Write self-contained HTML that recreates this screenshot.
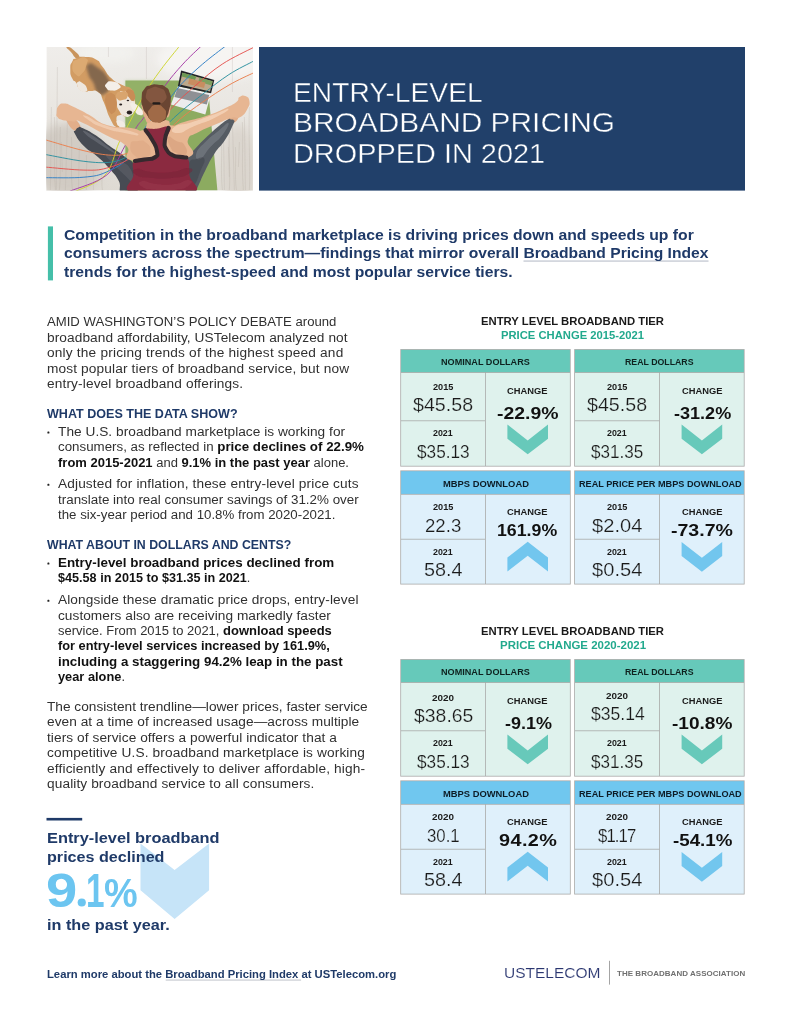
<!DOCTYPE html>
<html><head><meta charset="utf-8"><title>Entry-Level Broadband Pricing Dropped in 2021</title>
<style>
html,body{margin:0;padding:0;background:#fff;}
body{width:791px;height:1024px;position:relative;overflow:hidden;font-family:"Liberation Sans", sans-serif;}
.t{position:absolute;white-space:nowrap;line-height:1;transform-origin:0 0;font-family:"Liberation Sans", sans-serif;}
.t b{font-weight:700;color:#111;}
.a{position:absolute;}
</style></head><body>
<svg class="a" style="left:0;top:0" width="791" height="1024" viewBox="0 0 791 1024">
<svg x="46.4" y="47" width="206.5" height="143.6" viewBox="0 0 206.5 143.6" overflow="hidden">
<defs>
<filter id="b1" x="-10%" y="-10%" width="120%" height="120%"><feGaussianBlur stdDeviation="0.55"/></filter>
<filter id="b2" x="-10%" y="-10%" width="120%" height="120%"><feGaussianBlur stdDeviation="1.4"/></filter>
<filter id="b3" x="-30%" y="-30%" width="160%" height="160%"><feGaussianBlur stdDeviation="5"/></filter>
<linearGradient id="fl" x1="0" y1="0" x2="0" y2="1"><stop offset="0" stop-color="#efedea"/><stop offset="0.45" stop-color="#e9e6e1"/><stop offset="1" stop-color="#dedad3"/></linearGradient>
</defs>
<rect x="0" y="0" width="206.5" height="143.6" fill="url(#fl)"/>
<g filter="url(#b3)">
<ellipse cx="22" cy="112" rx="36" ry="36" fill="#cfc8c0" opacity="0.85"/>
<ellipse cx="192" cy="118" rx="16" ry="40" fill="#d9d3cb" opacity="0.85"/>
<ellipse cx="165" cy="12" rx="55" ry="22" fill="#f6f5f3" opacity="0.9"/>
<ellipse cx="60" cy="6" rx="30" ry="10" fill="#f3f2ef" opacity="0.8"/>
</g>
<g stroke="#b9b1a8" stroke-width="0.5" opacity="0.6" fill="none" filter="url(#b1)">
<path d="M11,20 L10,143"/>
<path d="M21,75 L19,143"/>
<path d="M33,100 L32,143"/>
<path d="M47,122 L47,143"/>
<path d="M177,85 L178,143"/>
<path d="M186,75 L188,143"/>
<path d="M198,70 L199,143"/>
<path d="M62,0 L62,10"/>
<path d="M100,0 L100,32"/>
<path d="M186,0 L186,45"/>
<path d="M5,60 L4,143"/>
<path d="M15,95 L16,125"/>
<path d="M182,100 L183,130"/>
<path d="M193,95 L192,120"/>
<path d="M8,70 C9,90 7,110 9,143" stroke="#aaa299" stroke-width="0.7" opacity="0.55"/>
<path d="M14,80 C13,100 15,120 13,143" stroke="#aaa299" stroke-width="0.7" opacity="0.55"/>
<path d="M25,90 C26,105 24,125 26,143" stroke="#aaa299" stroke-width="0.7" opacity="0.55"/>
<path d="M40,108 C41,120 39,132 40,143" stroke="#aaa299" stroke-width="0.7" opacity="0.55"/>
<path d="M55,125 C56,132 55,138 56,143" stroke="#aaa299" stroke-width="0.7" opacity="0.55"/>
<path d="M175,90 C176,105 174,125 176,143" stroke="#aaa299" stroke-width="0.7" opacity="0.55"/>
<path d="M183,85 C182,100 184,125 183,143" stroke="#aaa299" stroke-width="0.7" opacity="0.55"/>
<path d="M196,75 C197,95 195,120 197,143" stroke="#aaa299" stroke-width="0.7" opacity="0.55"/>
<path d="M203,60 C202,90 204,120 203,143" stroke="#aaa299" stroke-width="0.7" opacity="0.55"/>
<path d="M189,100 C190,110 188,130 190,143" stroke="#aaa299" stroke-width="0.7" opacity="0.55"/>
</g>
<polygon points="79.0,33.6 161.0,33.6 171.0,143.6 79.0,143.6" fill="#8cab60" filter="url(#b1)"/>
<polygon points="79.0,33.6 108.0,33.6 100.0,143.6 79.0,143.6" fill="#9bb972" opacity="0.45" filter="url(#b2)"/>
<g filter="url(#b1)">
<path d="M20.0,0.3 C20.7,2.0 21.2,1.4 24.5,5.0 C27.8,8.6 27.0,9.7 29.8,11.2 C32.6,12.7 33.9,12.2 33.0,9.5 C32.1,6.8 30.5,6.2 27.0,3.0 C23.5,-0.2 24.8,0.9 22.5,0.0 C20.2,-0.9 19.3,-1.4 20.0,0.3Z" fill="#c9945b" />
<path d="M29.8,11.2 C34.2,9.7 32.4,9.5 39.0,9.9 C45.6,10.3 43.9,9.2 49.6,12.5 C55.3,15.8 50.9,13.3 56.1,19.7 C61.3,26.1 58.7,25.5 65.3,31.6 C71.9,37.7 69.3,34.6 75.9,38.1 C82.5,41.6 81.1,38.1 85.1,42.1 C89.1,46.1 86.9,44.0 88.0,50.0 C89.1,56.0 89.2,54.7 88.5,60.0 C87.8,65.3 88.8,62.8 86.0,66.0 C83.2,69.2 84.0,68.8 80.0,69.5 C76.0,70.2 77.3,67.2 74.0,68.0 C70.7,68.8 70.3,68.7 70.0,72.0 C69.7,75.3 73.0,75.3 73.0,78.0 C73.0,80.7 73.0,82.0 70.0,80.0 C67.0,78.0 68.2,80.3 64.0,72.0 C59.8,63.7 61.3,64.0 57.4,55.2 C53.5,46.4 56.7,49.2 52.2,45.5 C47.7,41.8 48.4,44.3 44.0,44.0 C39.6,43.7 42.7,45.2 39.0,44.5 C35.3,43.8 36.0,44.8 33.0,42.0 C30.0,39.2 32.4,39.5 30.0,36.0 C27.6,32.5 27.9,36.1 25.9,31.6 C23.9,27.1 23.9,28.1 23.9,22.4 C23.9,16.7 23.9,18.2 25.9,14.5 C27.9,10.8 25.4,12.7 29.8,11.2Z" fill="#d29c63" />
<clipPath id="dogc"><path d="M29.8,11.2 C34.2,9.7 32.4,9.5 39.0,9.9 C45.6,10.3 43.9,9.2 49.6,12.5 C55.3,15.8 50.9,13.3 56.1,19.7 C61.3,26.1 58.7,25.5 65.3,31.6 C71.9,37.7 69.3,34.6 75.9,38.1 C82.5,41.6 81.1,38.1 85.1,42.1 C89.1,46.1 86.9,44.0 88.0,50.0 C89.1,56.0 89.2,54.7 88.5,60.0 C87.8,65.3 88.8,62.8 86.0,66.0 C83.2,69.2 84.0,68.8 80.0,69.5 C76.0,70.2 77.3,67.2 74.0,68.0 C70.7,68.8 70.3,68.7 70.0,72.0 C69.7,75.3 73.0,75.3 73.0,78.0 C73.0,80.7 73.0,82.0 70.0,80.0 C67.0,78.0 68.2,80.3 64.0,72.0 C59.8,63.7 61.3,64.0 57.4,55.2 C53.5,46.4 56.7,49.2 52.2,45.5 C47.7,41.8 48.4,44.3 44.0,44.0 C39.6,43.7 42.7,45.2 39.0,44.5 C35.3,43.8 36.0,44.8 33.0,42.0 C30.0,39.2 32.4,39.5 30.0,36.0 C27.6,32.5 27.9,36.1 25.9,31.6 C23.9,27.1 23.9,28.1 23.9,22.4 C23.9,16.7 23.9,18.2 25.9,14.5 C27.9,10.8 25.4,12.7 29.8,11.2Z"/></clipPath>
<g clip-path="url(#dogc)"><path d="M42.0,17.0 C45.3,15.0 45.7,16.7 52.0,21.0 C58.3,25.3 57.3,24.0 61.0,30.0 C64.7,36.0 64.0,33.3 63.0,39.0 C62.0,44.7 62.0,45.0 58.0,47.0 C54.0,49.0 54.7,48.7 51.0,45.0 C47.3,41.3 50.0,42.0 47.0,36.0 C44.0,30.0 43.7,33.3 42.0,27.0 C40.3,20.7 38.7,19.0 42.0,17.0Z" fill="#6a5646" opacity="0.75" filter="url(#b2)"/></g>
<path d="M26.0,18.0 C26.7,12.7 27.3,14.2 32.0,12.0 C36.7,9.8 37.3,9.5 40.0,11.5 C42.7,13.5 41.3,13.2 40.0,18.0 C38.7,22.8 39.3,22.7 36.0,26.0 C32.7,29.3 33.3,30.7 30.0,28.0 C26.7,25.3 25.3,23.3 26.0,18.0Z" fill="#dfae76" opacity="0.8"/>
<path d="M60.0,36.5 C62.0,34.3 61.6,34.0 66.0,34.5 C70.4,35.0 71.2,35.5 73.2,38.0 C75.2,40.5 74.7,40.2 72.0,42.0 C69.3,43.8 69.0,43.8 65.0,43.5 C61.0,43.2 61.7,43.3 60.0,41.0 C58.3,38.7 58.0,38.7 60.0,36.5Z" fill="#f4efe9" />
<path d="M31.5,35.0 C33.1,34.0 33.0,34.0 36.0,36.0 C39.0,38.0 39.4,38.1 40.4,41.0 C41.4,43.9 41.1,43.9 39.0,44.7 C36.9,45.5 36.6,45.4 34.0,43.5 C31.4,41.6 32.0,41.8 31.2,39.0 C30.4,36.2 29.9,36.0 31.5,35.0Z" fill="#eee7de" />
<path d="M72.0,47.0 C74.5,43.0 73.5,44.0 78.0,44.0 C82.5,44.0 82.0,43.3 85.5,47.0 C89.0,50.7 87.7,49.7 88.5,55.0 C89.3,60.3 89.5,58.5 88.0,63.0 C86.5,67.5 87.3,66.5 84.0,68.5 C80.7,70.5 81.7,70.5 78.0,69.0 C74.3,67.5 75.5,68.3 73.0,64.0 C70.5,59.7 70.8,61.7 70.5,56.0 C70.2,50.3 69.5,51.0 72.0,47.0Z" fill="#efe7de" />
<path d="M59.0,50.0 C59.8,46.2 59.3,47.5 62.0,46.5 C64.7,45.5 64.5,45.2 67.0,47.0 C69.5,48.8 68.5,47.7 69.5,52.0 C70.5,56.3 70.8,55.3 70.0,60.0 C69.2,64.7 69.3,64.3 67.0,66.0 C64.7,67.7 65.5,67.7 63.0,65.0 C60.5,62.3 60.8,63.0 59.5,58.0 C58.2,53.0 58.2,53.8 59.0,50.0Z" fill="#c98e58" />
<path d="M80.0,43.5 C81.5,42.2 82.3,42.0 85.0,43.0 C87.7,44.0 86.8,43.5 88.0,46.5 C89.2,49.5 89.2,49.5 88.5,52.0 C87.8,54.5 87.8,54.3 86.0,54.0 C84.2,53.7 84.8,53.3 83.0,51.0 C81.2,48.7 81.5,49.5 80.5,47.0 C79.5,44.5 78.5,44.8 80.0,43.5Z" fill="#c88d57" />
<path d="M70.0,47.0 C71.3,44.5 71.7,45.2 75.0,44.5 C78.3,43.8 78.0,43.2 80.0,45.0 C82.0,46.8 82.3,47.3 81.0,50.0 C79.7,52.7 79.3,52.3 76.0,53.0 C72.7,53.7 73.0,54.0 71.0,52.0 C69.0,50.0 68.7,49.5 70.0,47.0Z" fill="#d9a56e" />
<ellipse cx="83" cy="65.6" rx="2.7" ry="2.0" fill="#2b2321"/>
<ellipse cx="74.3" cy="57.5" rx="1.5" ry="0.9" fill="#2b2321"/>
<ellipse cx="81.5" cy="53.5" rx="1.3" ry="0.8" fill="#2b2321"/>
<path d="M84.6,56.0 C85.9,55.0 85.9,55.3 89.0,57.0 C92.1,58.7 91.4,58.0 94.0,61.0 C96.6,64.0 97.0,63.7 96.7,66.0 C96.4,68.3 95.9,68.7 93.0,68.0 C90.1,67.3 90.7,66.7 88.0,64.0 C85.3,61.3 86.1,62.7 85.0,60.0 C83.9,57.3 83.3,57.0 84.6,56.0Z" fill="#f4eee6" />
<path d="M70.9,73.5 C72.4,72.7 72.5,72.7 75.0,74.0 C77.5,75.3 77.8,75.5 78.5,77.5 C79.2,79.5 78.8,79.3 77.0,80.0 C75.2,80.7 75.2,80.7 73.0,79.5 C70.8,78.3 71.2,78.5 70.5,76.5 C69.8,74.5 69.4,74.3 70.9,73.5Z" fill="#f2ece4" />
</g>
<g filter="url(#b1)">
<polygon points="131.5,39.3 164.7,46.2 158.9,67.5 124.5,57.6" fill="#ececed" />
<polygon points="131.0,41.0 162.8,48.0 160.4,57.5 128.0,50.0" fill="#77797d" opacity="0.8"/>
<polygon points="134.7,23.5 167.9,32.9 164.7,46.2 131.5,39.3" fill="#222427" />
<polygon points="136.0,25.8 166.2,34.3 163.6,44.4 133.4,37.6" fill="#bca98c" />
<polygon points="136.0,25.8 150.0,29.6 148.6,33.0 135.3,29.4" fill="#6c9852" />
<polygon points="153.0,30.5 166.2,34.3 165.2,38.4 152.0,34.6" fill="#7da05e" />
<polygon points="143.0,31.5 159.0,35.6 157.6,41.0 141.6,37.0" fill="#c88d60" />
</g>
<g filter="url(#b1)">
<path d="M19.3,68.8 C20.5,67.6 25.4,69.4 28.4,71.8 C31.4,74.2 34.3,78.5 34.5,80.9 C34.7,83.3 31.6,84.6 29.2,84.0 C26.8,83.4 24.4,80.9 22.4,77.9 C20.4,74.9 18.1,70.0 19.3,68.8Z" fill="#e2ae8a" />
<path d="M186.0,64.0 C188.4,62.8 192.2,64.0 193.0,66.0 C193.8,68.0 191.8,72.0 190.0,74.0 C188.2,76.0 185.8,76.4 184.0,76.0 C182.2,75.6 180.6,74.4 181.0,72.0 C181.4,69.6 183.6,65.2 186.0,64.0Z" fill="#e2ae8a" />
<path d="M29.2,83.2 C30.2,81.6 30.2,81.1 32.0,80.5 C33.8,79.9 31.3,78.8 36.0,80.9 C40.7,83.0 42.4,83.6 49.7,88.5 C57.0,93.4 55.6,93.4 63.3,99.1 C71.0,104.8 72.0,104.8 78.5,109.7 C85.0,114.6 84.5,112.4 87.6,117.3 C90.7,122.2 89.4,120.3 90.0,128.0 C90.6,135.7 93.9,141.2 90.0,146.0 C86.1,150.8 80.1,149.2 75.4,146.0 C70.7,142.8 75.6,140.4 72.4,134.0 C69.2,127.6 69.0,128.4 63.3,121.9 C57.6,115.4 58.1,115.8 51.2,109.7 C44.3,103.6 43.6,105.3 37.5,99.1 C31.4,92.9 30.6,90.7 28.4,86.5 C26.2,82.3 28.2,84.8 29.2,83.2Z" fill="#464b53" />
<path d="M38.0,84.0 C40.7,84.8 43.6,86.7 50.0,91.0 C56.4,95.3 56.1,95.5 62.0,100.0 C67.9,104.5 71.5,106.9 72.0,108.0 C72.5,109.1 69.9,107.5 64.0,104.0 C58.1,100.5 56.4,99.3 50.0,95.0 C43.6,90.7 43.2,90.9 40.0,88.0 C36.8,85.1 35.3,83.2 38.0,84.0Z" fill="#747981" opacity="0.55"/>
<path d="M60.0,108.0 C61.6,106.9 67.6,110.3 74.0,114.0 C80.4,117.7 80.8,116.7 84.0,122.0 C87.2,127.3 87.6,132.4 86.0,134.0 C84.4,135.6 82.8,132.3 78.0,128.0 C73.2,123.7 72.8,123.3 68.0,118.0 C63.2,112.7 58.4,109.1 60.0,108.0Z" fill="#5d626a" opacity="0.6"/>
<path d="M184.7,72.6 C186.7,72.7 186.9,72.3 187.5,73.5 C188.1,74.7 189.4,71.8 187.0,77.0 C184.6,82.2 183.7,85.2 178.6,93.1 C173.5,101.0 173.3,98.6 168.0,106.7 C162.7,114.8 163.4,114.5 158.9,123.4 C154.4,132.3 154.1,134.1 151.3,140.1 C148.5,146.1 151.3,144.4 148.3,146.0 C145.3,147.6 142.1,150.8 139.9,146.0 C137.7,141.2 139.7,137.3 139.9,128.0 C140.1,118.7 138.5,118.2 140.7,111.3 C142.9,104.4 142.2,108.7 148.3,102.2 C154.4,95.7 155.0,94.7 163.5,87.0 C172.0,79.3 174.4,77.1 180.1,73.3 C185.8,69.5 182.7,72.5 184.7,72.6Z" fill="#565b63" />
<path d="M150.0,106.0 C151.6,101.2 154.1,99.9 160.0,94.0 C165.9,88.1 166.1,88.8 172.0,84.0 C177.9,79.2 180.9,74.9 182.0,76.0 C183.1,77.1 180.8,81.6 176.0,88.0 C171.2,94.4 169.9,93.6 164.0,100.0 C158.1,106.4 157.7,110.4 154.0,112.0 C150.3,113.6 148.4,110.8 150.0,106.0Z" fill="#80858c" opacity="0.55"/>
<path d="M142.0,118.0 C144.1,110.5 145.7,113.6 150.0,112.0 C154.3,110.4 156.9,108.8 158.0,112.0 C159.1,115.2 156.7,117.1 154.0,124.0 C151.3,130.9 151.2,133.7 148.0,138.0 C144.8,142.3 143.6,145.3 142.0,140.0 C140.4,134.7 139.9,125.5 142.0,118.0Z" fill="#41464d" opacity="0.55"/>
</g>
<g>
<path d="M133.2,-1.0 C130.2,2.8 122.1,12.5 116.7,19.7 C111.3,26.9 107.5,32.2 103.6,38.1 C99.7,44.0 99.3,44.7 95.2,52.1 C91.1,59.5 85.7,70.5 81.5,78.6 C77.3,86.7 76.6,87.0 72.4,96.1 C68.2,105.2 66.6,119.2 58.8,128.0 C51.0,136.8 35.2,141.1 29.9,144.0" fill="none" stroke="#cdd52e" stroke-width="0.95" stroke-linecap="round"/>
<path d="M154.9,-1.0 C151.5,2.3 143.2,9.7 136.5,17.1 C129.8,24.5 125.1,29.8 118.1,39.4 C111.1,49.0 103.2,62.2 98.2,69.5 C93.2,76.8 94.2,74.0 90.6,79.4 C87.0,84.8 84.1,90.2 78.5,99.1 C72.9,108.0 70.3,119.8 60.3,128.0 C50.3,136.2 30.6,141.1 23.9,144.0" fill="none" stroke="#a43aa6" stroke-width="0.95" stroke-linecap="round"/>
<path d="M179.2,-1.0 C175.0,2.3 164.0,10.4 156.2,17.1 C148.4,23.8 142.5,29.2 136.5,35.5 C130.5,41.8 130.0,43.3 123.3,51.3 C116.6,59.3 107.1,68.7 99.7,79.4 C92.3,90.1 90.2,101.4 83.0,109.7 C75.8,118.0 68.6,121.1 60.3,124.9 C52.0,128.7 48.7,129.1 37.5,130.2 C26.3,131.3 6.1,130.6 -1.0,130.7" fill="none" stroke="#2f7fc6" stroke-width="0.95" stroke-linecap="round"/>
<path d="M207.0,0.5 C201.3,3.5 186.4,10.2 175.9,17.1 C165.4,24.0 159.0,29.9 149.6,38.1 C140.2,46.3 133.0,52.3 124.6,61.8 C116.2,71.3 111.3,81.1 104.0,90.0 C96.7,98.9 92.6,104.8 84.6,110.5 C76.6,116.2 68.9,118.8 60.3,121.1 C51.7,123.4 48.7,123.3 37.5,123.1 C26.3,122.9 6.1,120.6 -1.0,120.1" fill="none" stroke="#e5534f" stroke-width="0.95" stroke-linecap="round"/>
<path d="M207.0,14.2 C202.5,16.7 191.8,21.5 182.5,27.6 C173.2,33.7 166.3,39.3 156.2,47.3 C146.1,55.3 136.5,62.3 127.3,71.0 C118.1,79.7 114.0,88.2 106.0,95.0 C98.0,101.8 91.4,104.5 83.8,108.2 C76.2,111.9 73.3,114.0 64.8,115.1 C56.3,116.2 49.6,115.7 37.5,114.3 C25.4,112.9 6.1,108.7 -1.0,107.5" fill="none" stroke="#2c909f" stroke-width="0.95" stroke-linecap="round"/>
<path d="M207.0,25.9 C202.5,28.1 191.8,32.7 182.5,38.1 C173.2,43.5 165.1,49.0 156.2,55.2 C147.3,61.4 142.6,64.5 133.8,72.0 C125.0,79.5 117.4,89.8 108.0,96.0 C98.6,102.2 90.2,103.8 82.3,106.0 C74.4,108.2 73.0,108.6 64.8,108.2 C56.6,107.8 49.6,106.5 37.5,103.7 C25.4,100.9 6.1,94.8 -1.0,92.8" fill="none" stroke="#ea7f4e" stroke-width="0.95" stroke-linecap="round"/>
</g>
<g filter="url(#b1)">
<path d="M10.2,66.0 C10.5,63.1 9.9,61.5 12.0,59.0 C14.1,56.5 14.0,56.3 18.0,56.5 C22.0,56.7 20.2,56.6 26.9,59.7 C33.6,62.8 34.1,63.1 43.0,68.0 C51.9,72.9 49.2,74.5 60.3,77.9 C71.4,81.3 74.8,79.5 84.6,80.9 C94.4,82.3 91.9,84.8 97.0,83.0 C102.1,81.2 97.5,76.7 103.7,74.1 C109.9,71.5 114.5,72.1 120.3,73.3 C126.1,74.5 120.9,78.2 125.5,78.6 C130.1,79.0 128.4,77.5 137.7,74.9 C147.0,72.3 149.5,72.5 160.4,68.8 C171.3,65.1 170.7,64.9 178.6,61.2 C186.5,57.5 186.2,58.0 190.0,55.0 C193.8,52.0 190.6,51.6 193.0,50.0 C195.4,48.4 196.3,47.9 199.0,49.0 C201.7,50.1 202.5,50.5 203.0,54.0 C203.5,57.5 203.4,57.7 201.0,62.0 C198.6,66.3 198.3,67.6 194.0,70.0 C189.7,72.4 190.4,69.4 184.7,71.0 C179.0,72.6 181.5,72.1 172.6,76.0 C163.7,79.9 159.6,80.9 151.3,85.5 C143.0,90.1 144.2,86.3 141.5,93.1 C138.8,99.9 155.4,105.4 141.0,111.0 C126.6,116.6 103.9,117.2 87.6,114.0 C71.3,110.8 87.3,105.9 80.0,99.1 C72.7,92.3 72.4,94.9 60.3,88.5 C48.2,82.1 43.4,78.7 34.5,75.0 C25.6,71.3 31.9,75.0 27.0,74.5 C22.1,74.0 20.3,74.2 16.0,73.0 C11.7,71.8 12.5,71.9 11.0,70.0 C9.5,68.1 9.9,68.9 10.2,66.0Z" fill="#e7b692" />
<path d="M40.0,69.0 C45.3,70.7 44.7,73.3 58.0,78.0 C71.3,82.7 68.7,79.7 80.0,83.0 C91.3,86.3 92.7,87.0 92.0,88.0 C91.3,89.0 89.3,88.3 78.0,86.0 C66.7,83.7 70.0,85.3 58.0,81.0 C46.0,76.7 48.0,77.0 42.0,73.0 C36.0,69.0 34.7,67.3 40.0,69.0Z" fill="#f3d0b4" opacity="0.8"/>
<path d="M128.0,80.0 C132.7,76.3 133.3,79.0 146.0,75.0 C158.7,71.0 154.0,72.3 166.0,68.0 C178.0,63.7 181.3,61.0 182.0,62.0 C182.7,63.0 179.3,65.3 168.0,71.0 C156.7,76.7 160.0,74.0 148.0,79.0 C136.0,84.0 138.7,85.7 132.0,86.0 C125.3,86.3 123.3,83.7 128.0,80.0Z" fill="#f5d5ba" opacity="0.8"/>
<path d="M122.0,90.0 C124.0,88.0 124.7,91.3 130.0,94.0 C135.3,96.7 135.0,93.3 138.0,98.0 C141.0,102.7 141.7,105.3 139.0,108.0 C136.3,110.7 135.0,108.7 130.0,106.0 C125.0,103.3 126.7,105.3 124.0,100.0 C121.3,94.7 120.0,92.0 122.0,90.0Z" fill="#d39b78" opacity="0.55"/>
<path d="M84.0,98.0 C84.7,92.7 86.7,94.7 92.0,94.0 C97.3,93.3 96.0,92.7 100.0,96.0 C104.0,99.3 104.0,99.3 104.0,104.0 C104.0,108.7 104.7,108.0 100.0,110.0 C95.3,112.0 95.3,114.0 90.0,110.0 C84.7,106.0 83.3,103.3 84.0,98.0Z" fill="#d9a27f" opacity="0.45"/>
</g>
<g filter="url(#b1)">
<path d="M97.9,82.7 C98.9,80.4 104.0,82.4 110.0,81.8 C116.0,81.2 121.5,77.7 123.7,80.3 C125.9,82.9 120.3,87.6 119.5,93.1 C118.7,98.6 118.3,100.1 120.3,103.7 C122.3,107.3 123.2,106.8 128.0,108.5 C132.8,110.2 137.3,106.2 140.8,110.8 C144.3,115.3 142.0,119.8 143.0,128.0 C144.0,136.2 158.5,141.8 145.2,146.0 C131.9,150.2 99.8,150.2 86.2,146.0 C72.6,141.8 86.7,135.4 87.0,128.0 C87.3,120.6 84.7,118.1 87.7,114.3 C90.7,110.5 95.0,112.6 100.0,111.5 C105.0,110.4 106.7,112.2 109.0,109.7 C111.3,107.2 110.7,104.8 110.0,100.6 C109.3,96.4 108.7,95.7 105.9,91.5 C103.1,87.3 96.9,85.0 97.9,82.7Z" fill="#8b2a40" />
<path d="M99.1,83.2 C101.1,86.2 102.5,86.9 105.9,93.1 C109.3,99.2 109.8,98.5 110.5,103.7 C111.2,108.9 112.0,107.9 108.2,110.5 C104.5,113.1 103.9,111.5 98.0,112.5 C92.1,113.5 91.3,113.5 88.5,114.0" fill="none" stroke="#35292f" stroke-width="4.0" stroke-linecap="round"/>
<path d="M122.2,80.9 C121.1,84.6 119.1,86.5 118.5,93.1 C117.9,99.7 117.9,98.4 120.3,102.9 C122.7,107.4 122.6,106.1 126.4,108.2 C130.2,110.3 128.9,109.1 133.0,109.8 C137.1,110.5 138.0,110.3 140.1,110.5" fill="none" stroke="#35292f" stroke-width="4.0" stroke-linecap="round"/>
<path d="M90.0,122.0 C95.0,121.0 93.3,124.0 105.0,125.0 C116.7,126.0 112.7,126.3 125.0,125.0 C137.3,123.7 136.3,120.3 142.0,121.0 C147.7,121.7 147.7,123.7 142.0,127.0 C136.3,130.3 137.3,129.7 125.0,131.0 C112.7,132.3 116.7,132.0 105.0,131.0 C93.3,130.0 95.0,131.0 90.0,128.0 C85.0,125.0 85.0,123.0 90.0,122.0Z" fill="#772035" opacity="0.5"/>
<path d="M96.0,134.0 C100.7,133.0 99.3,136.0 110.0,137.0 C120.7,138.0 117.3,138.3 128.0,137.0 C138.7,135.7 137.3,132.3 142.0,133.0 C146.7,133.7 146.7,135.7 142.0,139.0 C137.3,142.3 138.7,141.7 128.0,143.0 C117.3,144.3 120.7,144.0 110.0,143.0 C99.3,142.0 100.7,143.0 96.0,140.0 C91.3,137.0 91.3,135.0 96.0,134.0Z" fill="#a13a50" opacity="0.4"/>
</g>
<g filter="url(#b1)">
<path d="M95.5,58.0 C94.2,58.2 95.3,58.7 96.1,62.7 C96.9,66.7 96.0,65.6 98.0,70.0 C100.0,74.4 100.0,76.0 102.0,76.0 C104.0,76.0 104.7,74.7 104.0,70.0 C103.3,65.3 102.8,66.0 100.0,62.0 C97.2,58.0 96.8,57.8 95.5,58.0Z" fill="#e3ad89" />
<path d="M122.0,70.0 C123.4,68.4 123.3,65.9 124.1,61.2 C124.9,56.5 125.5,57.1 124.5,56.0 C123.5,54.9 122.5,54.7 121.0,58.0 C119.5,61.3 119.7,62.0 120.0,66.0 C120.3,70.0 120.6,71.6 122.0,70.0Z" fill="#e3ad89" />
<path d="M95.3,50.0 C95.9,44.0 95.1,45.9 98.0,42.0 C100.9,38.1 99.3,39.7 104.0,38.3 C108.7,36.9 107.0,37.2 112.0,37.8 C117.0,38.4 115.2,37.3 119.0,40.0 C122.8,42.7 121.6,41.0 123.4,46.0 C125.2,51.0 124.4,49.7 124.3,55.0 C124.2,60.3 124.3,57.0 123.0,62.0 C121.7,67.0 122.3,66.0 120.3,70.0 C118.3,74.0 120.4,72.3 117.0,74.0 C113.6,75.7 114.2,75.3 110.0,75.0 C105.8,74.7 107.8,75.7 104.5,73.0 C101.2,70.3 102.7,71.3 100.0,67.0 C97.3,62.7 97.9,65.7 96.3,60.0 C94.7,54.3 94.7,56.0 95.3,50.0Z" fill="#6b4532" />
<path d="M100.0,46.0 C101.0,41.7 100.7,42.7 105.0,41.0 C109.3,39.3 108.3,39.3 113.0,41.0 C117.7,42.7 117.3,41.7 119.0,46.0 C120.7,50.3 121.0,50.7 118.0,54.0 C115.0,57.3 115.3,56.0 110.0,56.0 C104.7,56.0 105.3,57.3 102.0,54.0 C98.7,50.7 99.0,50.3 100.0,46.0Z" fill="#8d6045" opacity="0.7"/>
<path d="M103.5,62.0 C106.2,58.7 105.5,58.3 110.0,58.0 C114.5,57.7 113.8,57.7 117.0,61.0 C120.2,64.3 119.8,63.7 119.5,68.0 C119.2,72.3 119.2,71.5 116.0,74.0 C112.8,76.5 113.8,75.8 110.0,75.5 C106.2,75.2 107.2,75.5 104.5,73.0 C101.8,70.5 102.3,71.7 102.0,68.0 C101.7,64.3 100.8,65.3 103.5,62.0Z" fill="#a06b47" />
<rect x="106" y="55.2" width="8" height="2.2" rx="1" fill="#221d1c"/>
</g>
</svg>
<rect x="259" y="47" width="486" height="143.6" fill="#21406a"/>
<rect x="47.9" y="226.4" width="5.1" height="54" fill="#45bfa9"/>
<rect x="523.5" y="260.6" width="185" height="0.9" fill="#a9b0bd"/>
<rect x="400.30" y="349.10" width="170.40" height="117.50" fill="#a9aaa9"/>
<rect x="401.10" y="349.90" width="168.80" height="22.20" fill="#66c9ba"/>
<rect x="401.10" y="372.90" width="83.90" height="47.50" fill="#dff2ed"/>
<rect x="401.10" y="421.20" width="83.90" height="44.60" fill="#dff2ed"/>
<rect x="485.80" y="372.90" width="84.10" height="92.90" fill="#dff2ed"/>
<rect x="400.30" y="470.40" width="170.40" height="114.10" fill="#a9aaa9"/>
<rect x="401.10" y="471.20" width="168.80" height="22.70" fill="#70c7ef"/>
<rect x="401.10" y="494.70" width="83.90" height="44.10" fill="#dff0fb"/>
<rect x="401.10" y="539.60" width="83.90" height="44.10" fill="#dff0fb"/>
<rect x="485.80" y="494.70" width="84.10" height="89.00" fill="#dff0fb"/>
<rect x="574.20" y="349.10" width="170.40" height="117.50" fill="#a9aaa9"/>
<rect x="575.00" y="349.90" width="168.80" height="22.20" fill="#66c9ba"/>
<rect x="575.00" y="372.90" width="84.10" height="47.50" fill="#dff2ed"/>
<rect x="575.00" y="421.20" width="84.10" height="44.60" fill="#dff2ed"/>
<rect x="659.90" y="372.90" width="83.90" height="92.90" fill="#dff2ed"/>
<rect x="574.20" y="470.40" width="170.40" height="114.10" fill="#a9aaa9"/>
<rect x="575.00" y="471.20" width="168.80" height="22.70" fill="#70c7ef"/>
<rect x="575.00" y="494.70" width="84.10" height="44.10" fill="#dff0fb"/>
<rect x="575.00" y="539.60" width="84.10" height="44.10" fill="#dff0fb"/>
<rect x="659.90" y="494.70" width="83.90" height="89.00" fill="#dff0fb"/>
<polygon points="507.40000000000003,424.5 527.7,440.4 548.0,424.5 548.0,438.7 527.7,454.3 507.40000000000003,438.7" fill="#67c9ba"/>
<polygon points="681.6000000000001,424.5 701.9000000000001,440.4 722.2,424.5 722.2,438.7 701.9000000000001,454.3 681.6000000000001,438.7" fill="#67c9ba"/>
<polygon points="527.7,541.7 548.0,557.6 548.0,571.6 527.7,555.8000000000001 507.40000000000003,571.6 507.40000000000003,557.6" fill="#72c6ee"/>
<polygon points="681.6000000000001,541.9 701.9000000000001,557.8 722.2,541.9 722.2,556.1 701.9000000000001,571.6999999999999 681.6000000000001,556.1" fill="#72c6ee"/>
<rect x="400.30" y="659.10" width="170.40" height="117.50" fill="#a9aaa9"/>
<rect x="401.10" y="659.90" width="168.80" height="22.20" fill="#66c9ba"/>
<rect x="401.10" y="682.90" width="83.90" height="47.50" fill="#dff2ed"/>
<rect x="401.10" y="731.20" width="83.90" height="44.60" fill="#dff2ed"/>
<rect x="485.80" y="682.90" width="84.10" height="92.90" fill="#dff2ed"/>
<rect x="400.30" y="780.40" width="170.40" height="114.10" fill="#a9aaa9"/>
<rect x="401.10" y="781.20" width="168.80" height="22.70" fill="#70c7ef"/>
<rect x="401.10" y="804.70" width="83.90" height="44.10" fill="#dff0fb"/>
<rect x="401.10" y="849.60" width="83.90" height="44.10" fill="#dff0fb"/>
<rect x="485.80" y="804.70" width="84.10" height="89.00" fill="#dff0fb"/>
<rect x="574.20" y="659.10" width="170.40" height="117.50" fill="#a9aaa9"/>
<rect x="575.00" y="659.90" width="168.80" height="22.20" fill="#66c9ba"/>
<rect x="575.00" y="682.90" width="84.10" height="47.50" fill="#dff2ed"/>
<rect x="575.00" y="731.20" width="84.10" height="44.60" fill="#dff2ed"/>
<rect x="659.90" y="682.90" width="83.90" height="92.90" fill="#dff2ed"/>
<rect x="574.20" y="780.40" width="170.40" height="114.10" fill="#a9aaa9"/>
<rect x="575.00" y="781.20" width="168.80" height="22.70" fill="#70c7ef"/>
<rect x="575.00" y="804.70" width="84.10" height="44.10" fill="#dff0fb"/>
<rect x="575.00" y="849.60" width="84.10" height="44.10" fill="#dff0fb"/>
<rect x="659.90" y="804.70" width="83.90" height="89.00" fill="#dff0fb"/>
<polygon points="507.40000000000003,734.5 527.7,750.4 548.0,734.5 548.0,748.7 527.7,764.3 507.40000000000003,748.7" fill="#67c9ba"/>
<polygon points="681.6000000000001,734.5 701.9000000000001,750.4 722.2,734.5 722.2,748.7 701.9000000000001,764.3 681.6000000000001,748.7" fill="#67c9ba"/>
<polygon points="527.7,851.7 548.0,867.6 548.0,881.6 527.7,865.8000000000001 507.40000000000003,881.6 507.40000000000003,867.6" fill="#72c6ee"/>
<polygon points="681.6000000000001,851.9 701.9000000000001,867.8 722.2,851.9 722.2,866.1 701.9000000000001,881.6999999999999 681.6000000000001,866.1" fill="#72c6ee"/>
<rect x="47.4" y="431.5" width="2.0" height="2.0" rx="0.6" fill="#222"/>
<rect x="47.4" y="483.8" width="2.0" height="2.0" rx="0.6" fill="#222"/>
<rect x="47.4" y="562.6" width="2.0" height="2.0" rx="0.6" fill="#222"/>
<rect x="47.4" y="599.8" width="2.0" height="2.0" rx="0.6" fill="#222"/>
<polygon points="140.5,843.4 174.6,870.0 209.1,843.4 209.1,890.3 174.6,919.0 140.5,890.3" fill="#c6e4f8"/>
<circle cx="81.75" cy="902.5" r="4.1" fill="#6cc5f0"/>
<rect x="46.5" y="817.9" width="35.7" height="2.6" fill="#1f3a68"/>
<rect x="165.7" y="979.6" width="135.4" height="0.9" fill="#b8bcc4"/>
<rect x="609.0" y="960.8" width="0.9" height="23.8" fill="#9a9a9a"/>
</svg>
<div class="t" style="left:292.82px;top:76px;line-height:32px;font-size:28.5px;font-weight:400;color:#ffffff;letter-spacing:0.000px;transform:scaleX(0.9892);-webkit-text-stroke:0.4px #21406a;">ENTRY-LEVEL</div>
<div class="t" style="left:292.70px;top:106px;line-height:32px;font-size:28.5px;font-weight:400;color:#ffffff;letter-spacing:0.000px;transform:scaleX(1.0485);-webkit-text-stroke:0.4px #21406a;">BROADBAND PRICING</div>
<div class="t" style="left:292.77px;top:137px;line-height:32px;font-size:28.5px;font-weight:400;color:#ffffff;letter-spacing:0.000px;transform:scaleX(1.0137);-webkit-text-stroke:0.4px #21406a;">DROPPED IN 2021</div>
<div class="t" style="left:64.20px;top:227px;line-height:16px;font-size:14.4px;font-weight:700;color:#1f3a68;letter-spacing:0.000px;transform:scaleX(1.0924);">Competition in the broadband marketplace is driving prices down and speeds up for</div>
<div class="t" style="left:64.20px;top:245px;line-height:16px;font-size:14.4px;font-weight:700;color:#1f3a68;letter-spacing:-0.000px;transform:scaleX(1.0860);">consumers across the spectrum&mdash;findings that mirror overall <span class="u">Broadband Pricing Index</span></div>
<div class="t" style="left:64.20px;top:264px;line-height:16px;font-size:14.4px;font-weight:700;color:#1f3a68;letter-spacing:0.000px;transform:scaleX(1.0916);">trends for the highest-speed and most popular service tiers.</div>
<div class="t" style="left:46.50px;top:315px;line-height:14px;font-size:12.0px;font-weight:400;color:#303030;letter-spacing:0.000px;transform:scaleX(1.0951);">AMID WASHINGTON&rsquo;S POLICY DEBATE around</div>
<div class="t" style="left:46.50px;top:331px;line-height:14px;font-size:12.0px;font-weight:400;color:#303030;letter-spacing:0.072px;transform:scaleX(1.1400);">broadband affordability, USTelecom analyzed not</div>
<div class="t" style="left:46.50px;top:346px;line-height:14px;font-size:12.0px;font-weight:400;color:#303030;letter-spacing:0.164px;transform:scaleX(1.1400);">only the pricing trends of the highest speed and</div>
<div class="t" style="left:46.50px;top:362px;line-height:14px;font-size:12.0px;font-weight:400;color:#303030;letter-spacing:0.116px;transform:scaleX(1.1400);">most popular tiers of broadband service, but now</div>
<div class="t" style="left:46.50px;top:377px;line-height:14px;font-size:12.0px;font-weight:400;color:#303030;letter-spacing:0.111px;transform:scaleX(1.1400);">entry-level broadband offerings.</div>
<div class="t" style="left:46.50px;top:407px;line-height:14px;font-size:12.0px;font-weight:700;color:#1f3a68;letter-spacing:0.000px;transform:scaleX(1.0458);">WHAT DOES THE DATA SHOW?</div>
<div class="t" style="left:58.30px;top:425px;line-height:14px;font-size:12.0px;font-weight:400;color:#303030;letter-spacing:0.024px;transform:scaleX(1.1400);">The U.S. broadband marketplace is working for</div>
<div class="t" style="left:58.30px;top:440px;line-height:14px;font-size:12.0px;font-weight:400;color:#303030;letter-spacing:0.000px;transform:scaleX(1.1106);">consumers, as reflected in <b>price declines of 22.9%</b></div>
<div class="t" style="left:58.30px;top:456px;line-height:14px;font-size:12.0px;font-weight:400;color:#303030;letter-spacing:0.000px;transform:scaleX(1.0823);"><b>from 2015-2021</b> and <b>9.1% in the past year</b> alone.</div>
<div class="t" style="left:58.30px;top:477px;line-height:14px;font-size:12.0px;font-weight:400;color:#303030;letter-spacing:0.107px;transform:scaleX(1.1400);">Adjusted for inflation, these entry-level price cuts</div>
<div class="t" style="left:58.30px;top:493px;line-height:14px;font-size:12.0px;font-weight:400;color:#303030;letter-spacing:0.000px;transform:scaleX(1.1158);">translate into real consumer savings of 31.2% over</div>
<div class="t" style="left:58.30px;top:508px;line-height:14px;font-size:12.0px;font-weight:400;color:#303030;letter-spacing:0.000px;transform:scaleX(1.1058);">the six-year period and 10.8% from 2020-2021.</div>
<div class="t" style="left:46.50px;top:538px;line-height:14px;font-size:12.0px;font-weight:700;color:#1f3a68;letter-spacing:0.000px;transform:scaleX(1.0286);">WHAT ABOUT IN DOLLARS AND CENTS?</div>
<div class="t" style="left:58.30px;top:556px;line-height:14px;font-size:12.0px;font-weight:400;color:#303030;letter-spacing:-0.000px;transform:scaleX(1.1166);"><b>Entry-level broadband prices declined from</b></div>
<div class="t" style="left:58.30px;top:571px;line-height:14px;font-size:12.0px;font-weight:400;color:#303030;letter-spacing:0.000px;transform:scaleX(1.0522);"><b>$45.58 in 2015 to $31.35 in 2021</b>.</div>
<div class="t" style="left:58.30px;top:593px;line-height:14px;font-size:12.0px;font-weight:400;color:#303030;letter-spacing:0.085px;transform:scaleX(1.1400);">Alongside these dramatic price drops, entry-level</div>
<div class="t" style="left:58.30px;top:609px;line-height:14px;font-size:12.0px;font-weight:400;color:#303030;letter-spacing:0.030px;transform:scaleX(1.1400);">customers also are receiving markedly faster</div>
<div class="t" style="left:58.30px;top:624px;line-height:14px;font-size:12.0px;font-weight:400;color:#303030;letter-spacing:-0.000px;transform:scaleX(1.0805);">service. From 2015 to 2021, <b>download speeds</b></div>
<div class="t" style="left:58.30px;top:639px;line-height:14px;font-size:12.0px;font-weight:400;color:#303030;letter-spacing:0.000px;transform:scaleX(1.0665);"><b>for entry-level services increased by 161.9%,</b></div>
<div class="t" style="left:58.30px;top:655px;line-height:14px;font-size:12.0px;font-weight:400;color:#303030;letter-spacing:0.000px;transform:scaleX(1.1114);"><b>including a staggering 94.2% leap in the past</b></div>
<div class="t" style="left:58.30px;top:670px;line-height:14px;font-size:12.0px;font-weight:400;color:#303030;letter-spacing:0.000px;transform:scaleX(1.0676);"><b>year alone</b>.</div>
<div class="t" style="left:46.50px;top:700px;line-height:14px;font-size:12.0px;font-weight:400;color:#303030;letter-spacing:0.000px;transform:scaleX(1.1395);">The consistent trendline&mdash;lower prices, faster service</div>
<div class="t" style="left:46.50px;top:715px;line-height:14px;font-size:12.0px;font-weight:400;color:#303030;letter-spacing:0.035px;transform:scaleX(1.1400);">even at a time of increased usage&mdash;across multiple</div>
<div class="t" style="left:46.50px;top:731px;line-height:14px;font-size:12.0px;font-weight:400;color:#303030;letter-spacing:0.062px;transform:scaleX(1.1400);">tiers of service offers a powerful indicator that a</div>
<div class="t" style="left:46.50px;top:746px;line-height:14px;font-size:12.0px;font-weight:400;color:#303030;letter-spacing:0.112px;transform:scaleX(1.1400);">competitive U.S. broadband marketplace is working</div>
<div class="t" style="left:46.50px;top:762px;line-height:14px;font-size:12.0px;font-weight:400;color:#303030;letter-spacing:0.137px;transform:scaleX(1.1400);">efficiently and effectively to deliver affordable, high-</div>
<div class="t" style="left:46.50px;top:777px;line-height:14px;font-size:12.0px;font-weight:400;color:#303030;letter-spacing:0.089px;transform:scaleX(1.1400);">quality broadband service to all consumers.</div>
<div class="t" style="left:46.61px;top:829px;line-height:17px;font-size:15.0px;font-weight:700;color:#1f3a68;letter-spacing:0.000px;transform:scaleX(1.0896);">Entry-level broadband</div>
<div class="t" style="left:47.10px;top:848px;line-height:17px;font-size:15.0px;font-weight:700;color:#1f3a68;letter-spacing:0.000px;transform:scaleX(1.0756);">prices declined</div>
<div class="t" style="left:46.42px;top:864px;line-height:53px;font-size:47.5px;font-weight:700;color:#6cc5f0;letter-spacing:0.000px;transform:scaleX(1.1831);">9</div>
<div class="t" style="left:85.60px;top:864px;line-height:53px;font-size:47.5px;font-weight:700;color:#6cc5f0;letter-spacing:0.000px;transform:scaleX(0.7000);">1</div>
<div class="t" style="left:104.15px;top:871px;line-height:44px;font-size:40.0px;font-weight:700;color:#6cc5f0;letter-spacing:0.000px;transform:scaleX(0.9467);">%</div>
<div class="t" style="left:46.52px;top:916px;line-height:17px;font-size:15.0px;font-weight:700;color:#1f3a68;letter-spacing:0.000px;transform:scaleX(1.0818);">in the past year.</div>
<div class="t" style="left:47.10px;top:969px;line-height:11px;font-size:10.4px;font-weight:700;color:#1f3a68;letter-spacing:0.000px;transform:scaleX(1.0828);">Learn more about the <span class="u2">Broadband Pricing Index</span> at USTelecom.org</div>
<div class="t" style="left:504.49px;top:964px;line-height:17px;font-size:15.4px;font-weight:400;color:#2a3670;letter-spacing:0.000px;transform:scaleX(1.0079);-webkit-text-stroke:0.12px #fff;">USTELECOM</div>
<div class="t" style="left:617.30px;top:970px;line-height:7px;font-size:7.0px;font-weight:700;color:#707070;letter-spacing:0.037px;transform:scaleX(1.1400);">THE BROADBAND ASSOCIATION</div>
<div class="t" style="left:481.10px;top:316px;line-height:11px;font-size:10.3px;font-weight:700;color:#1a1a1a;letter-spacing:0.000px;transform:scaleX(1.0965);">ENTRY LEVEL BROADBAND TIER</div>
<div class="t" style="left:501.10px;top:330px;line-height:11px;font-size:10.2px;font-weight:700;color:#22a98d;letter-spacing:0.000px;transform:scaleX(1.1030);">PRICE CHANGE 2015-2021</div>
<div class="t" style="left:441.05px;top:357px;line-height:10px;font-size:8.6px;font-weight:700;color:#0e211e;letter-spacing:0.000px;transform:scaleX(1.0589);">NOMINAL DOLLARS</div>
<div class="t" style="left:432.70px;top:382px;line-height:10px;font-size:8.7px;font-weight:700;color:#1a1a1a;letter-spacing:0.000px;transform:scaleX(1.0566);">2015</div>
<div class="t" style="left:413.15px;top:394px;line-height:21px;font-size:18.6px;font-weight:400;color:#1a1a1a;letter-spacing:0.000px;transform:scaleX(1.0560);-webkit-text-stroke:0.2px #dff2ed;">$45.58</div>
<div class="t" style="left:433.05px;top:428px;line-height:10px;font-size:8.7px;font-weight:700;color:#1a1a1a;letter-spacing:0.000px;transform:scaleX(1.0207);">2021</div>
<div class="t" style="left:416.85px;top:441px;line-height:21px;font-size:18.6px;font-weight:400;color:#1a1a1a;letter-spacing:0.000px;transform:scaleX(0.9251);-webkit-text-stroke:0.2px #dff2ed;">$35.13</div>
<div class="t" style="left:507.40px;top:386px;line-height:10px;font-size:8.5px;font-weight:700;color:#1a1a1a;letter-spacing:0.000px;transform:scaleX(1.0975);">CHANGE</div>
<div class="t" style="left:497.30px;top:403px;line-height:20px;font-size:17.4px;font-weight:700;color:#111;letter-spacing:0.000px;transform:scaleX(1.1163);">-22.9%</div>
<div class="t" style="left:625.40px;top:357px;line-height:10px;font-size:8.6px;font-weight:700;color:#0e211e;letter-spacing:-0.000px;transform:scaleX(1.0202);">REAL DOLLARS</div>
<div class="t" style="left:606.90px;top:382px;line-height:10px;font-size:8.7px;font-weight:700;color:#1a1a1a;letter-spacing:0.000px;transform:scaleX(1.0566);">2015</div>
<div class="t" style="left:587.35px;top:394px;line-height:21px;font-size:18.6px;font-weight:400;color:#1a1a1a;letter-spacing:0.000px;transform:scaleX(1.0560);-webkit-text-stroke:0.2px #dff2ed;">$45.58</div>
<div class="t" style="left:607.25px;top:428px;line-height:10px;font-size:8.7px;font-weight:700;color:#1a1a1a;letter-spacing:0.000px;transform:scaleX(1.0207);">2021</div>
<div class="t" style="left:591.20px;top:441px;line-height:21px;font-size:18.6px;font-weight:400;color:#1a1a1a;letter-spacing:0.000px;transform:scaleX(0.9198);-webkit-text-stroke:0.2px #dff2ed;">$31.35</div>
<div class="t" style="left:681.60px;top:386px;line-height:10px;font-size:8.5px;font-weight:700;color:#1a1a1a;letter-spacing:0.000px;transform:scaleX(1.0975);">CHANGE</div>
<div class="t" style="left:673.65px;top:403px;line-height:20px;font-size:17.4px;font-weight:700;color:#111;letter-spacing:0.000px;transform:scaleX(1.0376);">-31.2%</div>
<div class="t" style="left:442.75px;top:479px;line-height:10px;font-size:8.6px;font-weight:700;color:#0d1c26;letter-spacing:0.000px;transform:scaleX(1.0907);">MBPS DOWNLOAD</div>
<div class="t" style="left:432.70px;top:502px;line-height:10px;font-size:8.7px;font-weight:700;color:#1a1a1a;letter-spacing:0.000px;transform:scaleX(1.0566);">2015</div>
<div class="t" style="left:425.05px;top:515px;line-height:21px;font-size:18.6px;font-weight:400;color:#1a1a1a;letter-spacing:0.000px;transform:scaleX(1.0011);-webkit-text-stroke:0.2px #dff0fb;">22.3</div>
<div class="t" style="left:433.05px;top:547px;line-height:10px;font-size:8.7px;font-weight:700;color:#1a1a1a;letter-spacing:0.000px;transform:scaleX(1.0207);">2021</div>
<div class="t" style="left:423.90px;top:559px;line-height:21px;font-size:18.6px;font-weight:400;color:#1a1a1a;letter-spacing:0.000px;transform:scaleX(1.0652);-webkit-text-stroke:0.2px #dff0fb;">58.4</div>
<div class="t" style="left:507.40px;top:507px;line-height:10px;font-size:8.5px;font-weight:700;color:#1a1a1a;letter-spacing:0.000px;transform:scaleX(1.0975);">CHANGE</div>
<div class="t" style="left:497.43px;top:520px;line-height:20px;font-size:17.4px;font-weight:700;color:#111;letter-spacing:0.000px;transform:scaleX(1.0205);">161.9%</div>
<div class="t" style="left:578.55px;top:479px;line-height:10px;font-size:8.6px;font-weight:700;color:#0d1c26;letter-spacing:0.000px;transform:scaleX(1.0628);">REAL PRICE PER MBPS DOWNLOAD</div>
<div class="t" style="left:606.90px;top:502px;line-height:10px;font-size:8.7px;font-weight:700;color:#1a1a1a;letter-spacing:0.000px;transform:scaleX(1.0566);">2015</div>
<div class="t" style="left:592.20px;top:515px;line-height:21px;font-size:18.6px;font-weight:400;color:#1a1a1a;letter-spacing:-0.000px;transform:scaleX(1.0825);-webkit-text-stroke:0.2px #dff0fb;">$2.04</div>
<div class="t" style="left:607.25px;top:547px;line-height:10px;font-size:8.7px;font-weight:700;color:#1a1a1a;letter-spacing:0.000px;transform:scaleX(1.0207);">2021</div>
<div class="t" style="left:592.20px;top:559px;line-height:21px;font-size:18.6px;font-weight:400;color:#1a1a1a;letter-spacing:-0.000px;transform:scaleX(1.0825);-webkit-text-stroke:0.2px #dff0fb;">$0.54</div>
<div class="t" style="left:681.60px;top:507px;line-height:10px;font-size:8.5px;font-weight:700;color:#1a1a1a;letter-spacing:0.000px;transform:scaleX(1.0975);">CHANGE</div>
<div class="t" style="left:671.30px;top:520px;line-height:20px;font-size:17.4px;font-weight:700;color:#111;letter-spacing:-0.000px;transform:scaleX(1.1236);">-73.7%</div>
<div class="t" style="left:481.10px;top:626px;line-height:11px;font-size:10.3px;font-weight:700;color:#1a1a1a;letter-spacing:0.000px;transform:scaleX(1.0965);">ENTRY LEVEL BROADBAND TIER</div>
<div class="t" style="left:499.55px;top:640px;line-height:11px;font-size:10.2px;font-weight:700;color:#22a98d;letter-spacing:0.000px;transform:scaleX(1.1269);">PRICE CHANGE 2020-2021</div>
<div class="t" style="left:441.05px;top:667px;line-height:10px;font-size:8.6px;font-weight:700;color:#0e211e;letter-spacing:0.000px;transform:scaleX(1.0589);">NOMINAL DOLLARS</div>
<div class="t" style="left:431.85px;top:693px;line-height:10px;font-size:8.7px;font-weight:700;color:#1a1a1a;letter-spacing:0.022px;transform:scaleX(1.1400);">2020</div>
<div class="t" style="left:413.50px;top:705px;line-height:21px;font-size:18.6px;font-weight:400;color:#1a1a1a;letter-spacing:0.000px;transform:scaleX(1.0436);-webkit-text-stroke:0.2px #dff2ed;">$38.65</div>
<div class="t" style="left:433.05px;top:738px;line-height:10px;font-size:8.7px;font-weight:700;color:#1a1a1a;letter-spacing:0.000px;transform:scaleX(1.0207);">2021</div>
<div class="t" style="left:416.85px;top:751px;line-height:21px;font-size:18.6px;font-weight:400;color:#1a1a1a;letter-spacing:0.000px;transform:scaleX(0.9251);-webkit-text-stroke:0.2px #dff2ed;">$35.13</div>
<div class="t" style="left:507.40px;top:696px;line-height:10px;font-size:8.5px;font-weight:700;color:#1a1a1a;letter-spacing:0.000px;transform:scaleX(1.0975);">CHANGE</div>
<div class="t" style="left:504.55px;top:713px;line-height:20px;font-size:17.4px;font-weight:700;color:#111;letter-spacing:0.000px;transform:scaleX(1.0339);">-9.1%</div>
<div class="t" style="left:625.40px;top:667px;line-height:10px;font-size:8.6px;font-weight:700;color:#0e211e;letter-spacing:-0.000px;transform:scaleX(1.0202);">REAL DOLLARS</div>
<div class="t" style="left:606.05px;top:691px;line-height:10px;font-size:8.7px;font-weight:700;color:#1a1a1a;letter-spacing:0.022px;transform:scaleX(1.1400);">2020</div>
<div class="t" style="left:590.50px;top:703px;line-height:21px;font-size:18.6px;font-weight:400;color:#1a1a1a;letter-spacing:0.000px;transform:scaleX(0.9446);-webkit-text-stroke:0.2px #dff2ed;">$35.14</div>
<div class="t" style="left:607.25px;top:738px;line-height:10px;font-size:8.7px;font-weight:700;color:#1a1a1a;letter-spacing:0.000px;transform:scaleX(1.0207);">2021</div>
<div class="t" style="left:591.20px;top:751px;line-height:21px;font-size:18.6px;font-weight:400;color:#1a1a1a;letter-spacing:0.000px;transform:scaleX(0.9198);-webkit-text-stroke:0.2px #dff2ed;">$31.35</div>
<div class="t" style="left:681.60px;top:696px;line-height:10px;font-size:8.5px;font-weight:700;color:#1a1a1a;letter-spacing:0.000px;transform:scaleX(1.0975);">CHANGE</div>
<div class="t" style="left:672.05px;top:713px;line-height:20px;font-size:17.4px;font-weight:700;color:#111;letter-spacing:0.000px;transform:scaleX(1.0961);">-10.8%</div>
<div class="t" style="left:442.75px;top:789px;line-height:10px;font-size:8.6px;font-weight:700;color:#0d1c26;letter-spacing:0.000px;transform:scaleX(1.0907);">MBPS DOWNLOAD</div>
<div class="t" style="left:431.85px;top:812px;line-height:10px;font-size:8.7px;font-weight:700;color:#1a1a1a;letter-spacing:0.022px;transform:scaleX(1.1400);">2020</div>
<div class="t" style="left:426.80px;top:825px;line-height:21px;font-size:18.6px;font-weight:400;color:#1a1a1a;letter-spacing:0.000px;transform:scaleX(0.9035);-webkit-text-stroke:0.2px #dff0fb;">30.1</div>
<div class="t" style="left:433.05px;top:857px;line-height:10px;font-size:8.7px;font-weight:700;color:#1a1a1a;letter-spacing:0.000px;transform:scaleX(1.0207);">2021</div>
<div class="t" style="left:423.90px;top:869px;line-height:21px;font-size:18.6px;font-weight:400;color:#1a1a1a;letter-spacing:0.000px;transform:scaleX(1.0652);-webkit-text-stroke:0.2px #dff0fb;">58.4</div>
<div class="t" style="left:507.40px;top:817px;line-height:10px;font-size:8.5px;font-weight:700;color:#1a1a1a;letter-spacing:0.000px;transform:scaleX(1.0975);">CHANGE</div>
<div class="t" style="left:499.10px;top:830px;line-height:20px;font-size:17.4px;font-weight:700;color:#111;letter-spacing:0.375px;transform:scaleX(1.1400);">94.2%</div>
<div class="t" style="left:578.55px;top:789px;line-height:10px;font-size:8.6px;font-weight:700;color:#0d1c26;letter-spacing:0.000px;transform:scaleX(1.0628);">REAL PRICE PER MBPS DOWNLOAD</div>
<div class="t" style="left:606.05px;top:812px;line-height:10px;font-size:8.7px;font-weight:700;color:#1a1a1a;letter-spacing:0.022px;transform:scaleX(1.1400);">2020</div>
<div class="t" style="left:598.20px;top:825px;line-height:21px;font-size:18.6px;font-weight:400;color:#1a1a1a;letter-spacing:-0.992px;transform:scaleX(0.9000);-webkit-text-stroke:0.2px #dff0fb;">$1.17</div>
<div class="t" style="left:607.25px;top:857px;line-height:10px;font-size:8.7px;font-weight:700;color:#1a1a1a;letter-spacing:0.000px;transform:scaleX(1.0207);">2021</div>
<div class="t" style="left:592.20px;top:869px;line-height:21px;font-size:18.6px;font-weight:400;color:#1a1a1a;letter-spacing:-0.000px;transform:scaleX(1.0825);-webkit-text-stroke:0.2px #dff0fb;">$0.54</div>
<div class="t" style="left:681.60px;top:817px;line-height:10px;font-size:8.5px;font-weight:700;color:#1a1a1a;letter-spacing:0.000px;transform:scaleX(1.0975);">CHANGE</div>
<div class="t" style="left:672.55px;top:830px;line-height:20px;font-size:17.4px;font-weight:700;color:#111;letter-spacing:0.000px;transform:scaleX(1.0778);">-54.1%</div>
</body></html>
